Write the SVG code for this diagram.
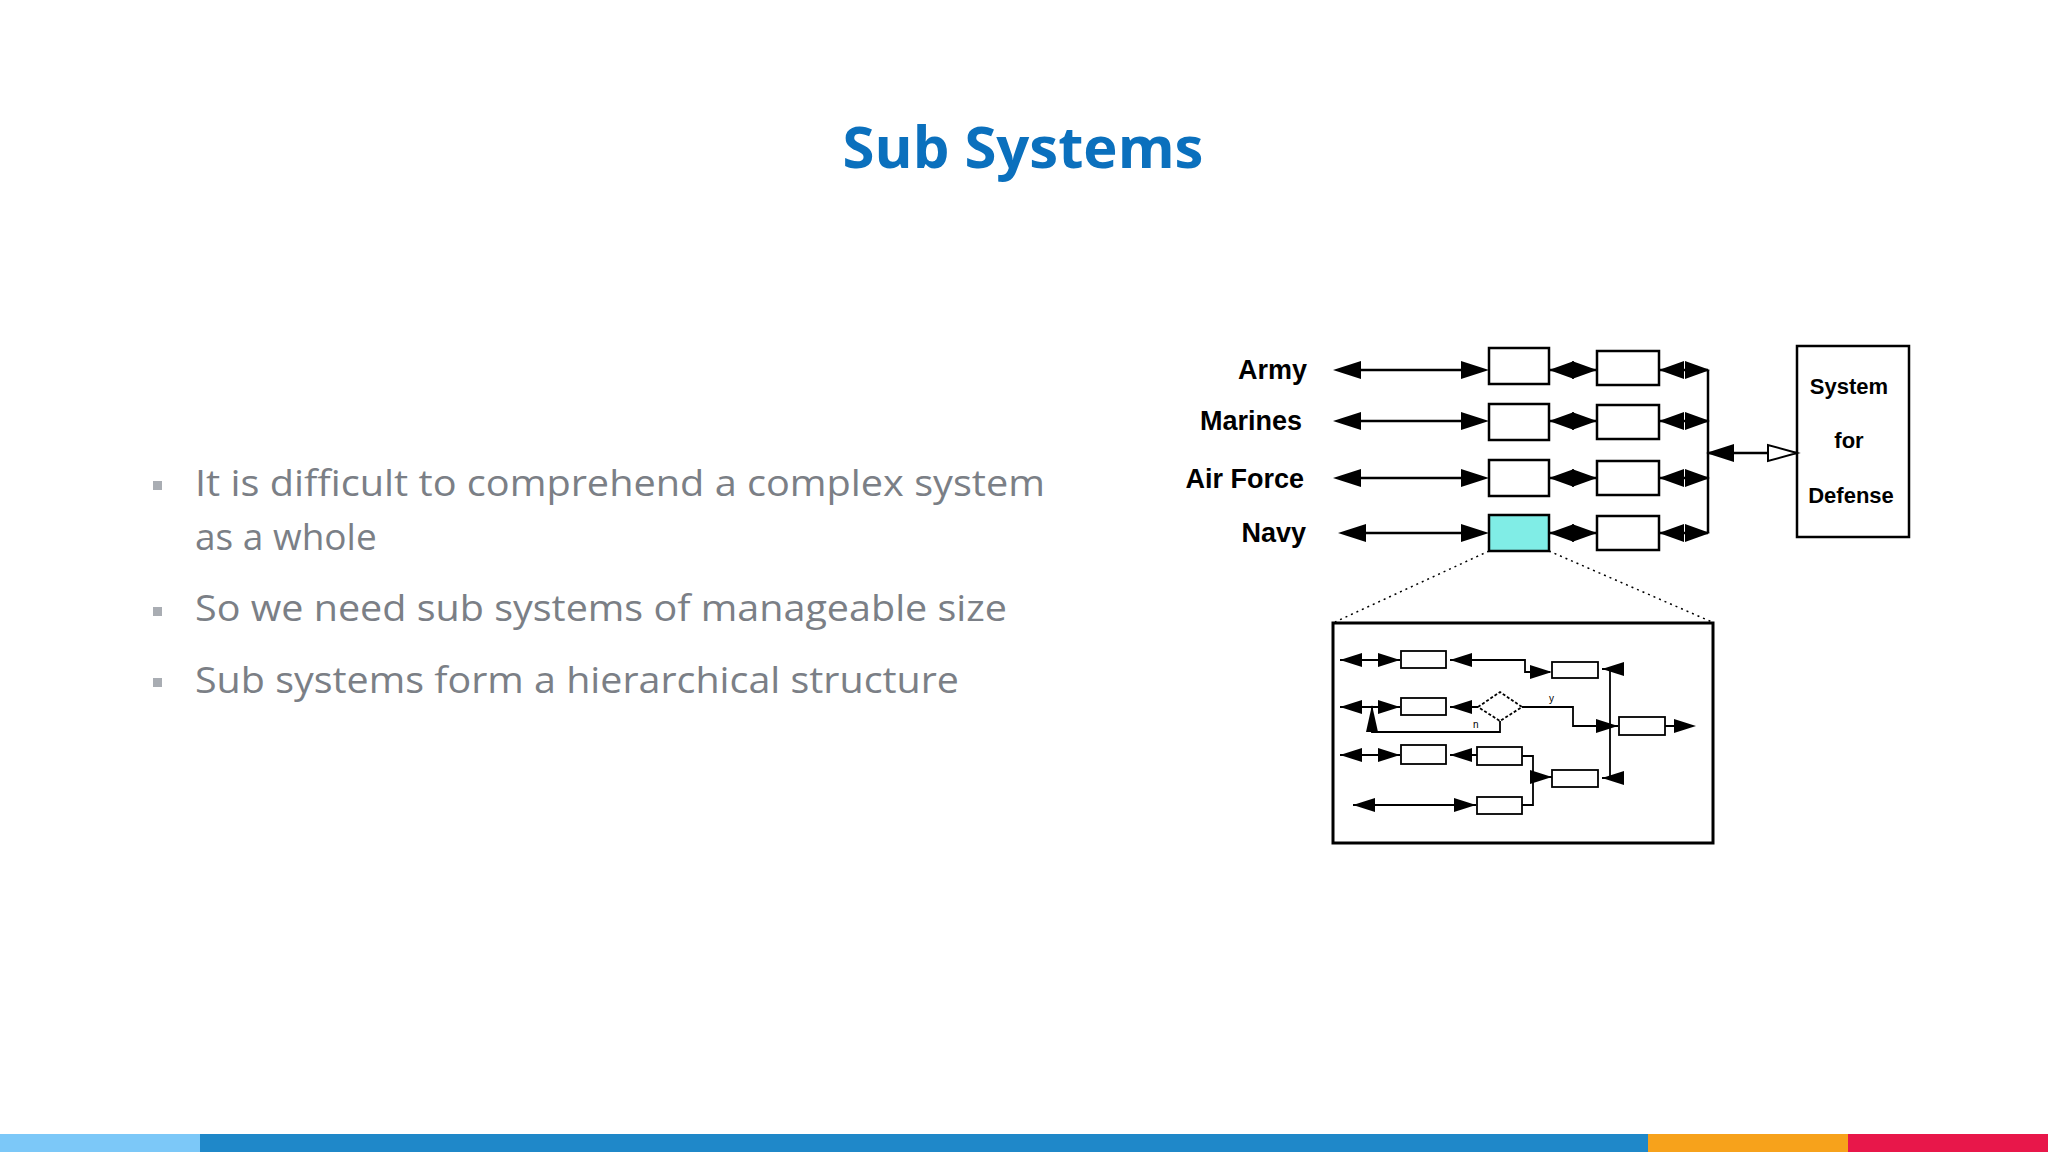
<svg xmlns="http://www.w3.org/2000/svg" xmlns:xlink="http://www.w3.org/1999/xlink" width="2048" height="1152" viewBox="0 0 2048 1152">
<defs>
<style>
.t{font-family:"Open Sans","Liberation Sans",sans-serif;}
.b{font-family:"Liberation Sans",Arial,sans-serif;font-weight:bold;font-size:27px;fill:#000}
.s{font-size:22px}
.bul{font-family:"Open Sans","Liberation Sans",sans-serif;font-size:37px;fill:#7b7f86}
.ln{stroke:#000;stroke-width:2.5;fill:none}
.bx{stroke:#000;stroke-width:2.5;fill:#fff}
.sl{stroke:#000;stroke-width:1.8;fill:none}
.sb{stroke:#000;stroke-width:1.8;fill:#fff}
</style>
<path id="L" d="M0,0 L28,-9 L28,9 Z" fill="#000"/>
<path id="R" d="M0,0 L-28,-9 L-28,9 Z" fill="#000"/>
<path id="l" d="M0,0 L25,-9 L25,9 Z" fill="#000"/>
<path id="r" d="M0,0 L-25,-9 L-25,9 Z" fill="#000"/>
<path id="sl" d="M0,0 L22,-7 L22,7 Z" fill="#000"/>
<path id="sr" d="M0,0 L-22,-7 L-22,7 Z" fill="#000"/>
</defs>
<rect width="2048" height="1152" fill="#fff"/>
<text class="t" x="1023" y="168" text-anchor="middle" font-size="58" font-weight="bold" fill="#0b70bd">Sub Systems</text>
<g id="bullets">
<rect x="153" y="481" width="9" height="9" fill="#a9adb3"/>
<rect x="153" y="607" width="9" height="9" fill="#a9adb3"/>
<rect x="153" y="678" width="9" height="9" fill="#a9adb3"/>
<text class="bul" x="195" y="496" textLength="850" lengthAdjust="spacingAndGlyphs">It is difficult to comprehend a complex system</text>
<text class="bul" x="195" y="550">as a whole</text>
<text class="bul" x="195" y="621" textLength="812" lengthAdjust="spacingAndGlyphs">So we need sub systems of manageable size</text>
<text class="bul" x="195" y="693" textLength="764" lengthAdjust="spacingAndGlyphs">Sub systems form a hierarchical structure</text>
</g>
<g id="labels">
<text class="b" x="1307" y="379" text-anchor="end">Army</text>
<text class="b" x="1302" y="430" text-anchor="end">Marines</text>
<text class="b" x="1304" y="488" text-anchor="end">Air Force</text>
<text class="b" x="1306" y="542" text-anchor="end">Navy</text>
</g>
<g id="boxes">
<rect class="bx" x="1489" y="348" width="60" height="36"/>
<rect class="bx" x="1597" y="351" width="62" height="34"/>
<rect class="bx" x="1489" y="404" width="60" height="36"/>
<rect class="bx" x="1597" y="405" width="62" height="34"/>
<rect class="bx" x="1489" y="460" width="60" height="36"/>
<rect class="bx" x="1597" y="461" width="62" height="34"/>
<rect class="bx" x="1489" y="515" width="60" height="36" style="fill:#80ede6"/>
<rect class="bx" x="1597" y="516" width="62" height="34"/>
</g>
<g id="system">
<rect class="bx" x="1797" y="346" width="112" height="191"/>
<text class="b s" x="1849" y="394" text-anchor="middle">System</text>
<text class="b s" x="1849" y="448" text-anchor="middle">for</text>
<text class="b s" x="1851" y="503" text-anchor="middle">Defense</text>
</g>
<g id="connectors">
<path class="ln" d="M1340,370H1480M1340,421H1480M1340,478H1480M1345,533H1480M1549,370H1597M1549,421H1597M1549,478H1597M1549,533H1597M1659,370H1708M1659,421H1708M1659,478H1708M1659,533H1708M1708,370V533M1708,453H1797"/>
<use href="#L" x="1333" y="370"/><use href="#R" x="1489" y="370"/>
<use href="#L" x="1333" y="421"/><use href="#R" x="1489" y="421"/>
<use href="#L" x="1333" y="478"/><use href="#R" x="1489" y="478"/>
<use href="#L" x="1338" y="533"/><use href="#R" x="1489" y="533"/>
<use href="#l" x="1549" y="370"/><use href="#r" x="1597" y="370"/>
<use href="#l" x="1549" y="421"/><use href="#r" x="1597" y="421"/>
<use href="#l" x="1549" y="478"/><use href="#r" x="1597" y="478"/>
<use href="#l" x="1549" y="533"/><use href="#r" x="1597" y="533"/>
<use href="#l" x="1659" y="370"/><use href="#r" x="1710" y="370"/>
<use href="#l" x="1659" y="421"/><use href="#r" x="1710" y="421"/>
<use href="#l" x="1659" y="478"/><use href="#r" x="1710" y="478"/>
<use href="#l" x="1659" y="533"/><use href="#r" x="1710" y="533"/>
<use href="#L" x="1706" y="453"/>
<path d="M1797,453 L1768,445 L1768,461 Z" fill="#fff" stroke="#000" stroke-width="2"/>
<path d="M1489,551 L1335,622 M1549,551 L1712,622" stroke="#000" stroke-width="1.5" stroke-dasharray="2,4" fill="none"/>
</g>
<g id="detail">
<rect x="1333" y="623" width="380" height="220" fill="#fff" stroke="#000" stroke-width="3"/>
<rect class="sb" x="1401" y="651" width="45" height="17"/>
<rect class="sb" x="1552" y="662" width="46" height="16"/>
<rect class="sb" x="1401" y="698" width="45" height="17"/>
<rect class="sb" x="1619" y="717" width="46" height="18"/>
<rect class="sb" x="1401" y="745" width="45" height="19"/>
<rect class="sb" x="1477" y="747" width="45" height="18"/>
<rect class="sb" x="1552" y="770" width="46" height="17"/>
<rect class="sb" x="1477" y="797" width="45" height="17"/>
<path d="M1478,707 L1500,692 L1522,707 L1500,721 Z" fill="#fff" stroke="#000" stroke-width="1.8" stroke-dasharray="3,2"/>
<path class="sl" d="M1340,660H1400M1450,660H1525V672H1550M1602,669H1610M1610,669V778M1602,778H1610M1340,707H1400M1450,707H1478M1522,707H1573V726H1618M1665,726H1690M1500,721V732H1372V706M1340,755H1400M1450,755H1477M1522,756H1533V805H1522M1533,777H1552M1353,805H1476"/>
<text x="1549" y="702" font-family="Liberation Sans,sans-serif" font-size="10">y</text>
<text x="1473" y="728" font-family="Liberation Sans,sans-serif" font-size="10">n</text>
<use href="#sl" x="1340" y="660"/><use href="#sr" x="1400" y="660"/><use href="#sl" x="1450" y="660"/><use href="#sr" x="1552" y="672"/><use href="#sl" x="1602" y="669"/>
<use href="#sl" x="1340" y="707"/><use href="#sr" x="1400" y="707"/><use href="#sl" x="1450" y="707"/><use href="#sr" x="1618" y="726"/><use href="#sr" x="1696" y="726"/>
<path d="M1372,705 L1366,732 L1378,732 Z" fill="#000"/>
<use href="#sl" x="1340" y="755"/><use href="#sr" x="1400" y="755"/><use href="#sl" x="1450" y="755"/><use href="#sr" x="1552" y="777"/><use href="#sl" x="1602" y="778"/>
<use href="#sl" x="1353" y="805"/><use href="#sr" x="1476" y="805"/>
</g>
<g id="footer">
<rect x="0" y="1134" width="200" height="18" fill="#7cc8f8"/>
<rect x="200" y="1134" width="1448" height="18" fill="#1f88c9"/>
<rect x="1648" y="1134" width="200" height="18" fill="#f7a21b"/>
<rect x="1848" y="1134" width="200" height="18" fill="#e8174a"/>
</g>
</svg>
